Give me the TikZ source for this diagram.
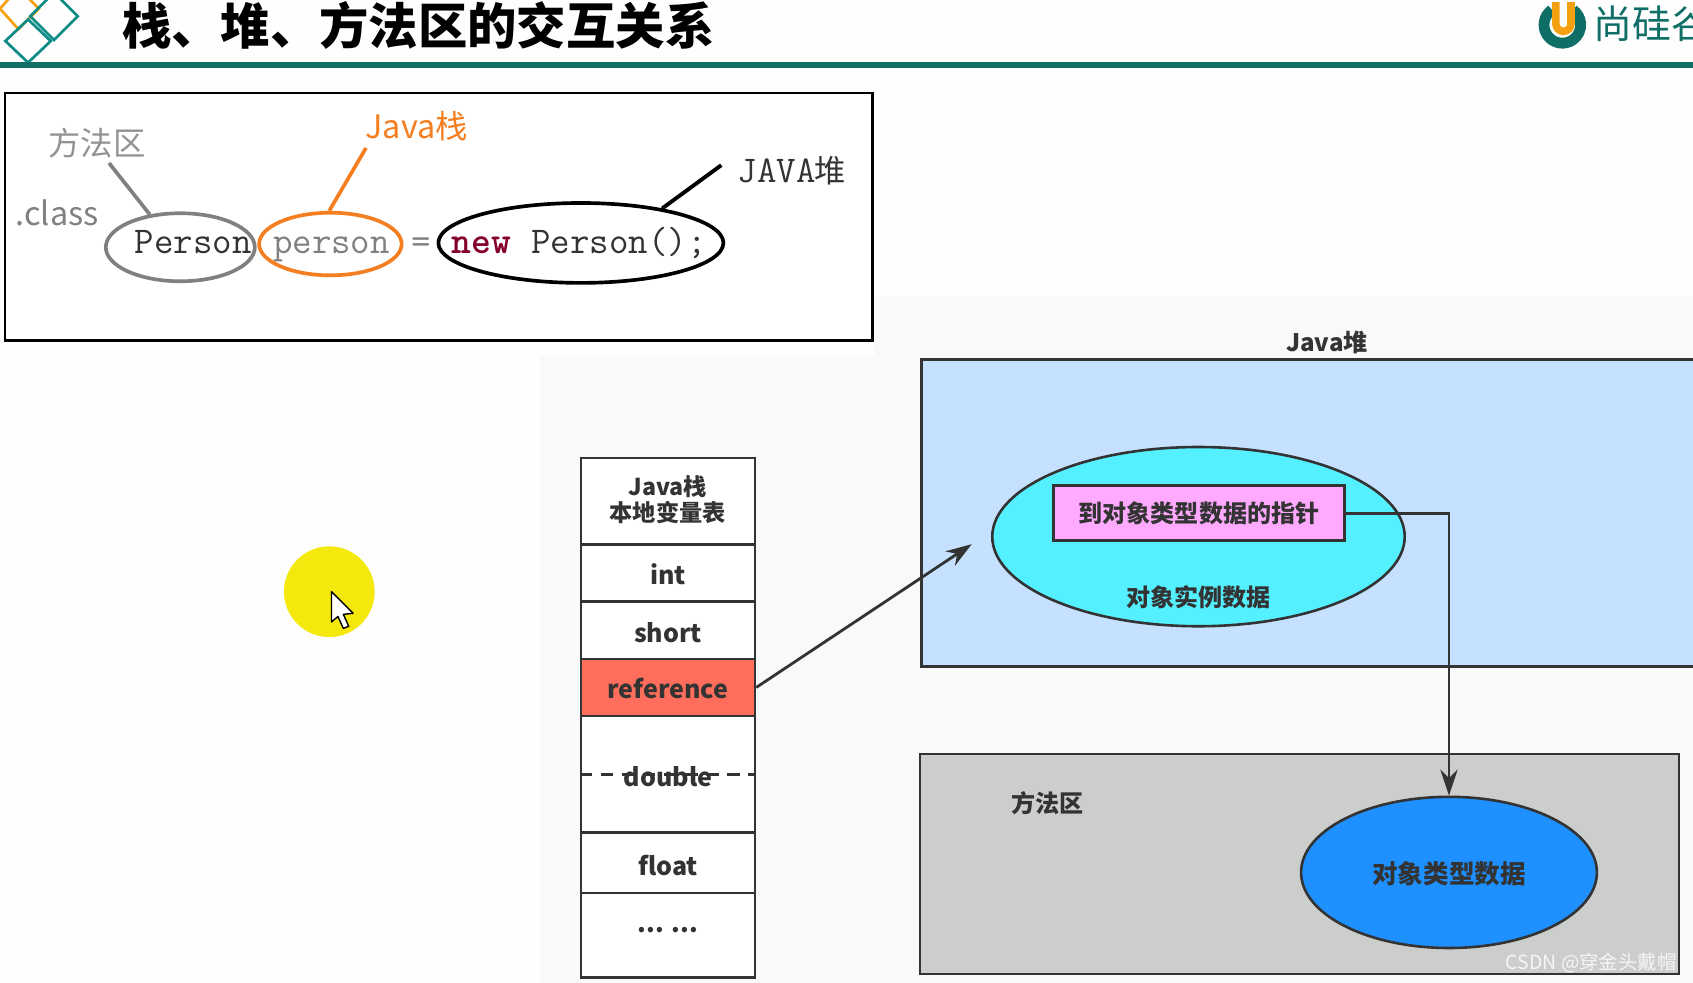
\documentclass[tikz,border=0pt]{standalone}
\usepackage{fontspec}
\setmainfont{Noto Sans CJK SC}
\usetikzlibrary{shapes.geometric,arrows.meta}
\definecolor{ink}{HTML}{333333}
\definecolor{teal}{HTML}{0F6F66}
\definecolor{logoorange}{HTML}{F5A010}
\definecolor{callorange}{HTML}{F57F20}
\definecolor{callgrey}{HTML}{808080}
\definecolor{pagebg}{HTML}{FDFEFD}
\definecolor{panelbg}{HTML}{F8FAF9}
\definecolor{refred}{HTML}{FF6E5C}
\newcommand{\fsz}[1]{\fontsize{#1}{#1}\selectfont}
\tikzset{
  cell/.style={draw=ink,line width=2.4pt,fill=white,minimum width=161pt,inner sep=0pt,anchor=north west,text=ink,font=\fsz{23.2}\bfseries,text height=22pt,text depth=0pt},
  area/.style={draw=ink,line width=2.4pt,inner sep=0pt,anchor=north west},
  oval/.style={ellipse,draw=#1,line width=3.4pt,inner sep=0pt},
  code/.style={inner sep=0pt,font=\ttfamily\fsz{35}},
  call/.style={inner sep=0pt,font=\fsz{30}},
  lbl/.style={inner sep=0pt,text=ink,font=\fsz{22.3}\bfseries},
  conn/.style={draw=ink,line width=2.6pt,-{Stealth[length=24pt,width=16pt]}},
}
\begin{document}
\begin{tikzpicture}[x=1pt,y=-1pt]
\useasboundingbox (0,0) rectangle (1568,910);
\clip (0,0) rectangle (1568,910);
\fill[pagebg] (0,0) rectangle (1568,910);
\fill[panelbg] (500,330) -- (810,330) -- (810,275) -- (1568,275) -- (1568,910) -- (500,910) -- cycle;

% header
\draw[logoorange,line width=2.5pt] (0,8) -- (17,27) -- (36,8) -- (17,-11) -- cycle;
\draw[teal!80!cyan,line width=2.5pt] (28,15) -- (50,37) -- (72,15) -- (50,-7) -- cycle;
\draw[teal!80!cyan,line width=2.5pt] (5,38) -- (26,18) -- (47,38) -- (26,58) -- cycle;
\node[anchor=west,inner sep=0pt,font=\fsz{45.7}\bfseries] (title) at (113,24) {栈、堆、方法区的交互关系};
\fill[teal] (0,57.5) rectangle (1568,63);
\draw[teal,line width=10pt] (1447,23) ++(235:17) arc[start angle=235,end angle=-55,radius=17];
\draw[logoorange,line width=7pt] (1441,2) -- (1441,22) arc[start angle=180,end angle=0,radius=7] -- (1455,2);
\node[anchor=west,inner sep=0pt,text=teal,font=\fsz{36}] (brand) at (1476,22) {尚硅谷};

% code panel
\node[area,draw=black,fill=white,minimum width=803.5pt,minimum height=229pt] (codebox) at (3.5,85) {};
\node[oval=callgrey,minimum width=138pt,minimum height=63pt] (ovalA) at (167,229) {};
\node[oval=callorange,minimum width=132pt,minimum height=58pt] (ovalB) at (306,226) {};
\node[oval=black,minimum width=264pt,minimum height=74pt] (ovalC) at (538,225) {};
\node[code,anchor=base,text=black!80] (tA) at (179,235) {Person};
\node[code,anchor=base,text=callgrey] (tB) at (307,235) {person};
\node[code,anchor=base,text=callgrey] (eq) at (390,235) {=};
\node[code,anchor=base west,text=purple!70!black,font=\ttfamily\bfseries\fsz{35}] (tN) at (418,235) {new};
\node[code,anchor=base west,text=black!80] (tC) at (492,235) {Person();};
\node[call,text=callgrey!85] (mA) at (90,133) {方法区};
\node[call,text=callorange] (mB) at (386,117) {Java栈};
\node[call,text=black!80,anchor=base west] (mC) at (683,169) {\ttfamily\fsz{35}JAVA\rmfamily\fsz{29}\hspace{-1pt}堆};
\node[call,text=callgrey] (cls) at (53,197) {.class};
\coordinate (eA) at (101,151);
\coordinate (eB) at (339,137);
\coordinate (eC) at (668,153);
\draw[callgrey,line width=3.4pt] (eA) -- (ovalA.133);
\draw[callorange,line width=3.4pt] (eB) -- (ovalB.92);
\draw[black,line width=3.6pt] (eC) -- (ovalC.23);

% mouse pointer
\fill[yellow!95!black] (305,548) circle[radius=42];
\draw[black,line width=1.3pt,fill=white,line join=round] (307,548) -- (307,576) -- (313,571) -- (318,582) -- (323,580) -- (318,569) -- (327,568) -- cycle;

% stack
\node[cell,minimum height=80pt] (head) at (537,423) {};
\node[lbl,font=\fsz{21.5}\bfseries,align=center] (headT) at (618.5,463) {Java栈\\[3pt]本地变量表};
\node[cell,minimum height=53pt] (cInt) at (537,503) {int};
\node[cell,minimum height=53pt] (cShort) at (537,556) {short};
\node[cell,minimum height=53pt,fill=refred,text height=20pt] (cRef) at (537,609) {reference};
\node[cell,minimum height=108pt] (cDouble) at (537,662) {double};
\node[cell,minimum height=56pt,text height=24pt] (cFloat) at (537,770) {float};
\node[cell,minimum height=78pt,text height=0pt,text depth=5pt] (cMore) at (537,826) {... ...};
\draw[ink,line width=2.4pt,dash pattern=on 11.5pt off 8pt] (cDouble.west) -- (cDouble.east);

% heap
\node[lbl] (heapT) at (1229,317) {Java堆};
\node[area,fill={rgb,255:red,197;green,225;blue,255},minimum width=760pt,minimum height=284pt] (heap) at (852,332) {};
\node[ellipse,draw=ink,line width=2.4pt,fill={rgb,255:red,85;green,240;blue,255},minimum width=382pt,minimum height=166pt,inner sep=0pt] (inst) at (1110,497) {};
\node[lbl] (instT) at (1110,553) {对象实例数据};
\node[rectangle,draw=ink,line width=2.8pt,fill={rgb,255:red,255;green,170;blue,255},minimum width=269pt,minimum height=51pt,inner sep=0pt,lbl] (ptr) at (1110.5,475.5) {到对象类型数据的指针};

% method area
\node[area,fill={rgb,255:red,204;green,206;blue,204},minimum width=703pt,minimum height=204pt] (method) at (851,697) {};
\node[lbl] (methodT) at (970,744) {方法区};
\node[ellipse,draw=ink,line width=2.4pt,fill={rgb,255:red,30;green,144;blue,255},minimum width=274pt,minimum height=140pt,inner sep=0pt,lbl,font=\fsz{23.7}\bfseries,text height=20pt,text depth=0pt] (klass) at (1342,808) {对象类型数据};

% connectors
\coordinate (refEnd) at (900,504);
\draw[conn] (cRef.east) -- (refEnd);
\draw[conn] (ptr.east) -- (klass.north |- ptr.east) -- (klass.north);

\node[anchor=east,inner sep=0pt,text=white!92!gray,font=\fsz{18}] (mark) at (1553,892) {CSDN @穿金头戴帽};
\end{tikzpicture}
\end{document}
